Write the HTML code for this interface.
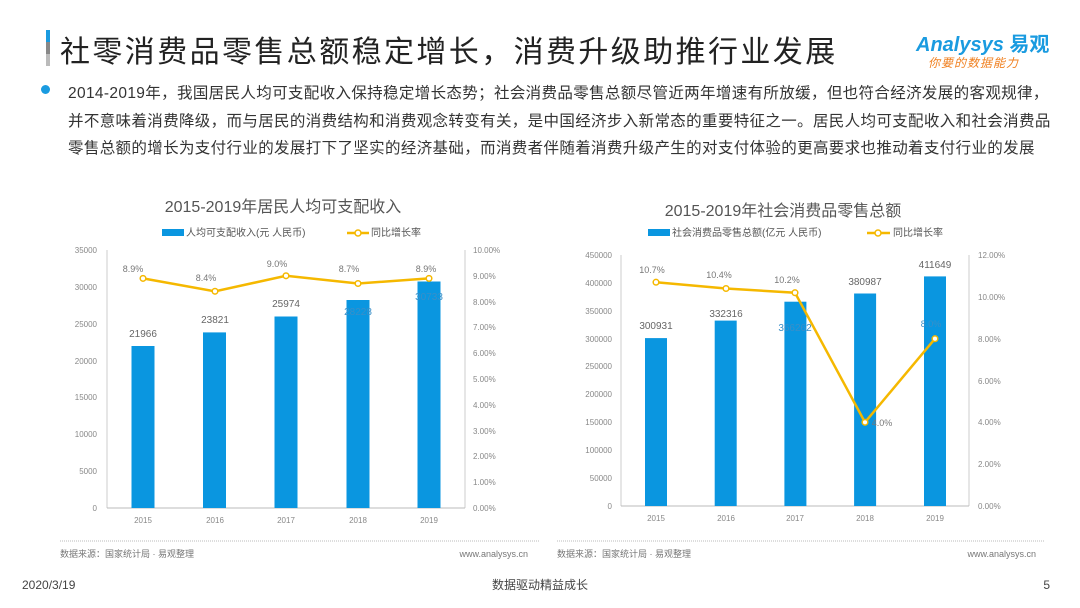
<!DOCTYPE html>
<html><head><meta charset="utf-8"><style>
body{margin:0;width:1080px;height:608px;background:#fff;overflow:hidden;font-family:"Liberation Sans","Noto Sans CJK SC",sans-serif;}
.t{position:absolute;white-space:nowrap;}
</style></head><body>
<div style="position:absolute;left:46px;top:30px;width:4px;height:12px;background:#1a9be0"></div>
<div style="position:absolute;left:46px;top:42px;width:4px;height:12px;background:#888"></div>
<div style="position:absolute;left:46px;top:54px;width:4px;height:12px;background:#bbb"></div>
<div class="t" style="left:60px;top:27px;font-size:30px;color:#222;letter-spacing:2.4px">社零消费品零售总额稳定增长，消费升级助推行业发展</div>
<div class="t" style="left:916px;top:28px;font-size:20px;color:#1a9be0;font-style:italic;font-weight:bold">Analysys <span style="font-style:normal">易观</span></div>
<div class="t" style="left:928px;top:54px;font-size:12px;color:#f08020;font-style:italic;letter-spacing:1px">你要的数据能力</div>
<div style="position:absolute;left:41px;top:85px;width:9px;height:9px;border-radius:50%;background:#1a9be0"></div>
<div class="t" style="left:68px;top:80px;font-size:15.5px;color:#333;line-height:27.5px;letter-spacing:0.35px">2014-2019年，我国居民人均可支配收入保持稳定增长态势；社会消费品零售总额尽管近两年增速有所放缓，但也符合经济发展的客观规律，<br>并不意味着消费降级，而与居民的消费结构和消费观念转变有关，是中国经济步入新常态的重要特征之一。居民人均可支配收入和社会消费品<br>零售总额的增长为支付行业的发展打下了坚实的经济基础，而消费者伴随着消费升级产生的对支付体验的更高要求也推动着支付行业的发展</div>

<svg width="1080" height="608" style="position:absolute;left:0;top:0" font-family="Liberation Sans, Noto Sans CJK SC, sans-serif">
<!-- left chart -->
<text x="283" y="212" font-size="16" fill="#555" text-anchor="middle">2015-2019年居民人均可支配收入</text>
<rect x="162" y="229" width="22" height="7" fill="#0a96e0"/>
<text x="186" y="236" font-size="10" fill="#555">人均可支配收入(元 人民币)</text>
<line x1="347" y1="233" x2="369" y2="233" stroke="#f5b800" stroke-width="2.5"/>
<circle cx="358" cy="233" r="3" fill="#fff" stroke="#f5b800" stroke-width="1.5"/>
<text x="371" y="236" font-size="10" fill="#555">同比增长率</text>
<g font-size="8" fill="#888" text-anchor="end">
<text x="97" y="511">0</text><text x="97" y="474">5000</text><text x="97" y="437">10000</text><text x="97" y="400">15000</text><text x="97" y="364">20000</text><text x="97" y="327">25000</text><text x="97" y="290">30000</text><text x="97" y="253">35000</text>
</g>
<g font-size="8" fill="#888">
<text x="473" y="511">0.00%</text><text x="473" y="485">1.00%</text><text x="473" y="459">2.00%</text><text x="473" y="434">3.00%</text><text x="473" y="408">4.00%</text><text x="473" y="382">5.00%</text><text x="473" y="356">6.00%</text><text x="473" y="330">7.00%</text><text x="473" y="305">8.00%</text><text x="473" y="279">9.00%</text><text x="473" y="253">10.00%</text>
</g>
<line x1="107" y1="250" x2="107" y2="508" stroke="#ccc"/>
<line x1="465" y1="250" x2="465" y2="508" stroke="#ccc"/>
<line x1="107" y1="508" x2="465" y2="508" stroke="#bbb"/>
<g fill="#0a96e0">
<rect x="131.5" y="346" width="23" height="162"/><rect x="203" y="332.4" width="23" height="175.6"/><rect x="274.5" y="316.5" width="23" height="191.5"/><rect x="346.5" y="300" width="23" height="208"/><rect x="417.5" y="281.5" width="23" height="226.5"/>
</g>
<g font-size="10" fill="#666" text-anchor="middle">
<text x="143" y="337">21966</text><text x="215" y="323">23821</text><text x="286" y="307">25974</text><text x="358" y="315" fill="#3a8fc8">28228</text><text x="429" y="300" fill="#3a8fc8">30733</text>
</g>
<g font-size="8" fill="#888" text-anchor="middle">
<text x="143" y="523">2015</text><text x="215" y="523">2016</text><text x="286" y="523">2017</text><text x="358" y="523">2018</text><text x="429" y="523">2019</text>
</g>
<polyline points="143,278.4 215,291.3 286,275.8 358,283.5 429,278.4" fill="none" stroke="#f5b800" stroke-width="2.5"/>
<g fill="#fff" stroke="#f5b800" stroke-width="1.5">
<circle cx="143" cy="278.4" r="2.8"/><circle cx="215" cy="291.3" r="2.8"/><circle cx="286" cy="275.8" r="2.8"/><circle cx="358" cy="283.5" r="2.8"/><circle cx="429" cy="278.4" r="2.8"/>
</g>
<g font-size="9" fill="#777" text-anchor="middle">
<text x="133" y="272">8.9%</text><text x="206" y="281">8.4%</text><text x="277" y="267">9.0%</text><text x="349" y="272">8.7%</text><text x="426" y="272">8.9%</text>
</g>
<line x1="60" y1="541" x2="540" y2="541" stroke="#bbb" stroke-dasharray="1,1"/>
<text x="60" y="557" font-size="9" fill="#777">数据来源：国家统计局 · 易观整理</text>
<text x="528" y="557" font-size="9" fill="#777" text-anchor="end">www.analysys.cn</text>

<!-- right chart -->
<text x="783" y="216" font-size="16" fill="#555" text-anchor="middle">2015-2019年社会消费品零售总额</text>
<rect x="648" y="229" width="22" height="7" fill="#0a96e0"/>
<text x="672" y="236" font-size="10" fill="#555">社会消费品零售总额(亿元 人民币)</text>
<line x1="867" y1="233" x2="890" y2="233" stroke="#f5b800" stroke-width="2.5"/>
<circle cx="878" cy="233" r="3" fill="#fff" stroke="#f5b800" stroke-width="1.5"/>
<text x="893" y="236" font-size="10" fill="#555">同比增长率</text>
<g font-size="8" fill="#888" text-anchor="end">
<text x="612" y="509">0</text><text x="612" y="481">50000</text><text x="612" y="453">100000</text><text x="612" y="425">150000</text><text x="612" y="397">200000</text><text x="612" y="369">250000</text><text x="612" y="342">300000</text><text x="612" y="314">350000</text><text x="612" y="286">400000</text><text x="612" y="258">450000</text>
</g>
<g font-size="8" fill="#888">
<text x="978" y="509">0.00%</text><text x="978" y="467">2.00%</text><text x="978" y="425">4.00%</text><text x="978" y="384">6.00%</text><text x="978" y="342">8.00%</text><text x="978" y="300">10.00%</text><text x="978" y="258">12.00%</text>
</g>
<line x1="621" y1="255" x2="621" y2="506" stroke="#ccc"/>
<line x1="969" y1="255" x2="969" y2="506" stroke="#ccc"/>
<line x1="621" y1="506" x2="969" y2="506" stroke="#bbb"/>
<g fill="#0a96e0">
<rect x="645" y="338.1" width="22" height="167.9"/><rect x="714.7" y="320.6" width="22" height="185.4"/><rect x="784.4" y="301.7" width="22" height="204.3"/><rect x="854.1" y="293.5" width="22" height="212.5"/><rect x="924" y="276.4" width="22" height="229.6"/>
</g>
<g font-size="10" fill="#666" text-anchor="middle">
<text x="656" y="329">300931</text><text x="726" y="317">332316</text><text x="795" y="331" fill="#3a8fc8">366262</text><text x="865" y="285">380987</text><text x="935" y="268">411649</text>
</g>
<g font-size="8" fill="#888" text-anchor="middle">
<text x="656" y="521">2015</text><text x="726" y="521">2016</text><text x="795" y="521">2017</text><text x="865" y="521">2018</text><text x="935" y="521">2019</text>
</g>
<polyline points="656,282.2 726,288.5 795,292.7 865,422.3 935,338.7" fill="none" stroke="#f5b800" stroke-width="2.5"/>
<g fill="#fff" stroke="#f5b800" stroke-width="1.5">
<circle cx="656" cy="282.2" r="2.8"/><circle cx="726" cy="288.5" r="2.8"/><circle cx="795" cy="292.7" r="2.8"/><circle cx="865" cy="422.3" r="2.8"/><circle cx="935" cy="338.7" r="2.8"/>
</g>
<g font-size="9" fill="#777" text-anchor="middle">
<text x="652" y="273">10.7%</text><text x="719" y="278">10.4%</text><text x="787" y="283">10.2%</text><text x="882" y="426">4.0%</text><text x="931" y="327" fill="#3a8fc8">8.0%</text>
</g>
<line x1="557" y1="541" x2="1045" y2="541" stroke="#bbb" stroke-dasharray="1,1"/>
<text x="557" y="557" font-size="9" fill="#777">数据来源：国家统计局 · 易观整理</text>
<text x="1036" y="557" font-size="9" fill="#777" text-anchor="end">www.analysys.cn</text>

<text x="22" y="589" font-size="12" fill="#444">2020/3/19</text>
<text x="540" y="589" font-size="12" fill="#444" text-anchor="middle">数据驱动精益成长</text>
<text x="1050" y="589" font-size="12" fill="#444" text-anchor="end">5</text>
</svg>
</body></html>
